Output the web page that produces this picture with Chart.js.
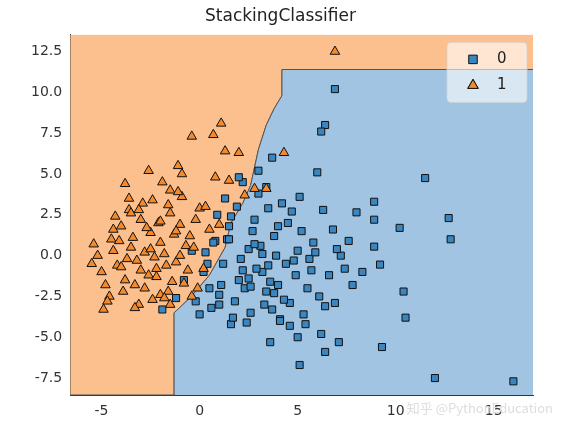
<!DOCTYPE html>
<html><head><meta charset="utf-8">
<script src="https://cdn.jsdelivr.net/npm/chart.js@4"></script>
<style>body{margin:0;background:#fff}#w{width:569px;height:439px;position:relative}</style>
</head><body><div id="w"><canvas id="c"></canvas></div>
<script>
const xTicks=[-5,0,5,10,15];
const yTicks=[-7.5,-5,-2.5,0,2.5,5,7.5,10,12.5];
const legendLabels=['0','1'];
const boundaryX=[-6.6,-1.3,-1.3,-0.5,0.5,1.3,1.6,2.2,2.6,3.0,3.4,3.8,4.2,4.2,17.0];
const boundaryY=[-8.55,-8.55,-3.5,-2.6,-1.2,0.5,2.0,3.2,4.3,6.5,8.0,9.0,9.8,11.4,11.4];
const class0X=[6.9,6.4,6.2,3.7,6.0,11.5,12.7,12.8,10.2,8.9,8.0,8.9,8.9,9.2,7.4,10.4,10.5,7.1,6.4,9.3,5.1,12.0,16.0,3.6,1.6,-1.9,0.5,4.1,5.4,
 2.2,3.0,3.5,4.2,2.8,1.5,0.8,1.2,2.5,3.8,4.5,5.2,5.8,6.3,4.8,3.2,2.0,1.0,0.2,-0.4,0.6,1.8,2.6,3.4,4.0,4.6,5.5,6.6,7.2,2.1,3.1,1.4,0.3,-0.8,-1.2,
 2.9,3.6,4.4,5.0,5.7,6.8,7.6,1.7,2.4,3.3,4.1,0.9,1.9,2.7,3.9,5.3,6.1,0.4,1.1,2.3,3.7,4.9,-0.2,0.7,1.6,2.8,3.5,4.3,5.6,6.9,7.8,1.3,2.0,3.0,4.7,
 2.5,3.2,1.0,4.0,5.1,0.0,2.2,6.4,5.9,3.8,2.6,1.5,4.6,7.0,8.3,5.0,3.4,6.2];
const class0Y=[10.2,8.0,7.6,6.0,5.1,4.75,2.3,1.0,1.7,3.3,2.65,2.2,0.55,-0.55,-0.8,-2.2,-3.8,-5.3,-5.9,-5.6,-6.7,-7.5,-7.7,-5.3,-4.2,-3.3,-2.0,-3.9,-4.2,
 4.5,3.8,2.9,3.2,2.2,1.8,0.9,-0.5,0.4,1.2,2.0,1.5,0.8,2.8,-0.3,-1.0,-1.5,-2.4,-1.0,0.3,-3.2,-2.8,-3.5,-2.2,-1.8,-2.9,-2.0,-1.2,0.0,-0.2,0.6,1.0,0.2,-1.5,-2.6,
 -0.8,-1.6,-0.5,0.3,-0.9,1.6,0.9,-3.8,-4.1,-3.0,-4.0,2.5,3.0,1.5,0.0,-3.6,-2.5,-0.5,-1.8,-2.0,-3.3,-1.2,-2.8,0.8,2.4,0.7,-0.6,-2.7,-0.2,-2.9,-1.8,3.5,4.8,5.2,2.7,
 -1.4,0.1,-3.0,1.8,3.6,-3.6,-0.9,-3.1,0.2,-2.3,-1.9,1.0,-4.3,0.4,-1.0,-5.0,4.2,-4.8];
const class1X=[6.9,4.3,1.1,-0.4,0.7,1.3,2.0,-1.1,-3.8,-1.5,-5.4,-5.5,-4.9,-3.1,2.8,3.4,
 -4.5,-4.0,-3.5,-3.0,-2.5,-2.0,-1.5,-1.0,-0.5,0.0,-4.2,-3.8,-3.2,-2.8,-2.2,-1.8,-1.2,-0.7,-4.8,-4.4,-3.6,-2.9,-2.4,-1.6,-0.9,-0.2,0.5,
 -4.6,-3.9,-3.3,-2.6,-2.0,-1.4,-0.6,-5.0,-4.1,-3.4,-2.7,-2.1,-1.3,-3.7,-3.0,-2.3,-1.7,-1.0,-0.3,0.3,1.0,-4.3,-3.5,-2.5,-1.9,-1.1,-2.8,-2.2,
 -1.6,-0.8,0.2,-3.6,-4.7,-2.4,-1.5,-0.4,-3.1,-2.0,1.5,2.3,-5.2,-4.0,-1.2,0.8,-2.6,-3.3,-1.8,-0.1,-4.4,-0.9];
const class1Y=[12.5,6.3,8.1,7.3,7.4,6.4,6.3,5.5,4.4,4.0,0.7,-0.5,-3.3,-3.0,4.1,4.1,
 1.0,1.8,0.5,2.2,1.4,0.8,2.6,1.9,1.2,2.9,-0.6,-1.5,-0.3,0.2,-0.8,0.1,-0.4,0.6,-1.8,0.3,2.8,3.2,3.4,3.1,3.6,2.2,1.6,
 -2.5,-2.2,-1.8,-1.2,-2.4,-1.6,-0.9,-1.0,0.9,1.1,1.7,2.0,1.3,-0.2,-0.9,-0.1,-0.6,0.0,0.5,3.0,1.9,2.4,2.6,0.4,4.5,3.9,-2.0,-1.3,
 -2.2,-1.7,-0.8,3.5,-2.8,-2.7,-3.0,-2.5,2.8,2.1,4.6,3.7,0.0,-0.7,1.5,4.8,5.2,-3.2,-2.6,-2.0,1.6,5.0];
const toPts=(xs,ys)=>xs.map((x,i)=>({x,y:ys[i]}));
const bnd=toPts(boundaryX,boundaryY);
const insetLegend={id:'insetLegend',afterDatasetsDraw(chart){
  const a=chart.chartArea,ctx=chart.ctx;const bx=a.right-86,by=a.top+8,bw=80,bh=60;
  ctx.save();ctx.fillStyle='rgba(255,255,255,0.6)';ctx.strokeStyle='rgba(210,210,210,0.8)';ctx.lineWidth=1;
  ctx.beginPath();ctx.roundRect(bx,by,bw,bh,4);ctx.fill();ctx.stroke();
  const ds=[chart.data.datasets[2],chart.data.datasets[3]];
  ds.forEach((d,i)=>{const cy=by+17+i*26,cx=bx+26;
    Chart.helpers.drawPoint(ctx,{pointStyle:d.pointStyle,radius:6,borderWidth:1},cx,cy);
    ctx.fillStyle=d.backgroundColor;ctx.strokeStyle=d.borderColor;ctx.lineWidth=1;
    ctx.beginPath();
    Chart.helpers.drawPoint(ctx,{pointStyle:d.pointStyle,radius:6,borderWidth:1},cx,cy);
    ctx.fillStyle='#222';ctx.font='15px "DejaVu Sans"';ctx.textBaseline='middle';ctx.fillText(legendLabels[i],bx+50,cy);});
  ctx.restore();}};
new Chart(document.getElementById('c'),{
 type:'scatter',
 data:{datasets:[
  {label:'regionBlue',data:bnd,showLine:true,fill:'start',backgroundColor:'#a0c4e2',borderColor:'#555',borderWidth:1,pointRadius:0,order:5},
  {label:'regionOrange',data:bnd,showLine:true,fill:'end',backgroundColor:'#fcc08f',borderColor:'#555',borderWidth:1,pointRadius:0,order:6},
  {label:'0',data:toPts(class0X,class0Y),pointStyle:'rect',pointRadius:5,backgroundColor:'#3a86c0',borderColor:'#111',borderWidth:1,order:2},
  {label:'1',data:toPts(class1X,class1Y),pointStyle:'triangle',pointRadius:5.5,backgroundColor:'#f58a2c',borderColor:'#111',borderWidth:1,order:1}
 ]},
 options:{responsive:true,maintainAspectRatio:false,animation:false,
  layout:{padding:{left:28,right:36,top:0,bottom:16}},
  plugins:{
   title:{display:true,text:'StackingClassifier',color:'#222',font:{family:'DejaVu Sans',size:17,weight:'normal'},padding:{top:6,bottom:8}},
   legend:{display:false},
   tooltip:{enabled:false}},
  scales:{
   x:{type:'linear',min:-6.6,max:17,afterBuildTicks:a=>{a.ticks=xTicks.map(v=>({value:v}))},grid:{display:false,tickLength:5,tickColor:'#333'},border:{color:'#333'},ticks:{color:'#333',font:{family:'DejaVu Sans',size:14}}},
   y:{type:'linear',min:-8.55,max:13.55,afterBuildTicks:a=>{a.ticks=yTicks.map(v=>({value:v}))},grid:{display:false,tickLength:5,tickColor:'#333'},border:{color:'#333'},ticks:{color:'#333',font:{family:'DejaVu Sans',size:14},callback:v=>v.toFixed(1)}}
  }},
 plugins:[insetLegend]
});
</script>
<div style="position:absolute;right:16px;bottom:22px;font:13px 'Noto Sans CJK SC';color:#ddd">知乎 @PythonEducation</div>
</body></html>
